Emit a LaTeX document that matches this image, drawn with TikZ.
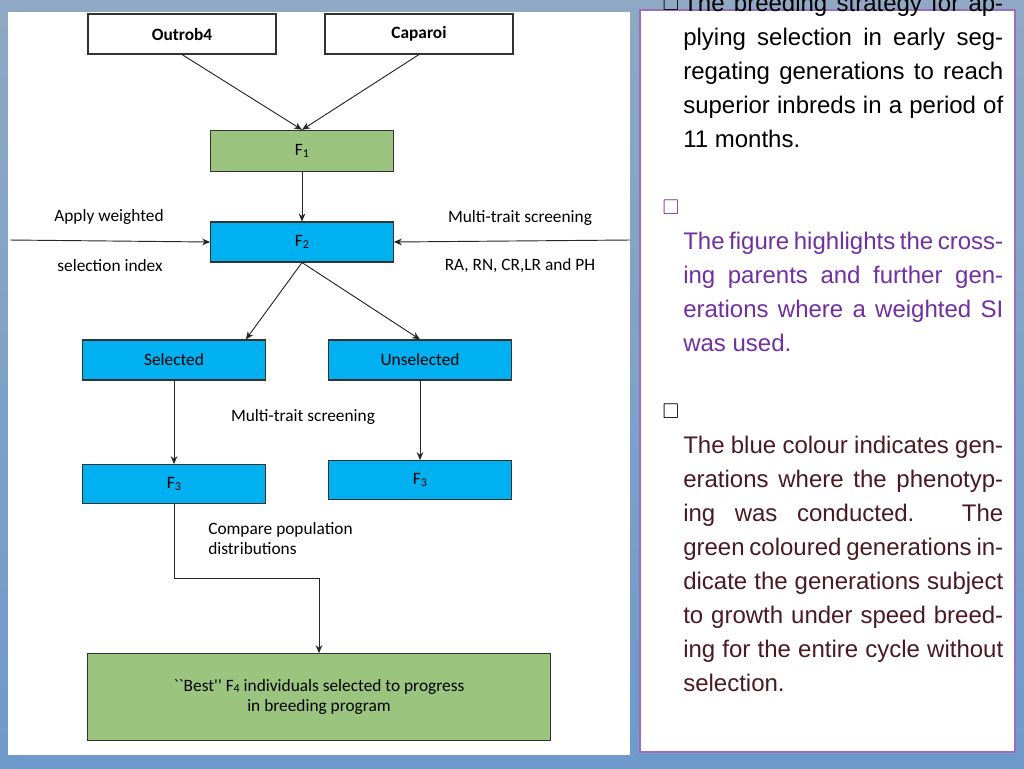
\documentclass[tikz,border=0pt]{standalone}
\usepackage{amssymb}
\usepackage{fontspec}
\setmainfont{Liberation Sans}
\newfontfamily\calfnt{Carlito}
\usetikzlibrary{arrows.meta}
\definecolor{gfill}{HTML}{9BC57F}
\definecolor{bfill}{HTML}{00B0F0}
\definecolor{purp}{HTML}{7030A0}
\definecolor{brn}{HTML}{4A1A22}
\definecolor{bgA}{HTML}{8FA9C4}
\definecolor{bgB}{HTML}{6E9ACB}
\newcommand{\Fsub}[1]{F\raisebox{-1pt}{\small #1}}
\newcommand{\bulbox}{\llap{\raisebox{1pt}{\fontsize{16}{16}\selectfont$\square$}\,}}
\begin{document}
\begin{tikzpicture}[x=0.75pt,y=-0.75pt,
  box/.style={draw=black!80,line width=0.8pt,font=\calfnt\fontsize{13}{15}\selectfont,inner sep=0pt},
  arr/.style={-{Stealth[length=6pt,width=5pt]},line width=0.7pt,black!85},
  lab/.style={font=\calfnt\fontsize{13}{15}\selectfont,inner sep=0pt,align=left},
  para/.style={anchor=north west,inner sep=0pt,text width=240pt,align=justify,font=\fontsize{18}{25.5}\selectfont}]
\useasboundingbox (0,0) rectangle (1024,768);
\shade[top color=bgA,bottom color=bgB] (0,0) rectangle (1024,768);
\fill[white] (8,12) rectangle (630,755);
\fill[white,draw=purp!70,line width=1.2pt] (640,10) rectangle (1015,752);
% boxes
\node[box,fill=white,minimum width=141pt,minimum height=30pt,font=\calfnt\bfseries\fontsize{13}{15}\selectfont] (o) at (182,34) {Outrob4};
\node[box,fill=white,minimum width=141pt,minimum height=30pt,font=\calfnt\bfseries\fontsize{13}{15}\selectfont] (c) at (419,34) {Caparoi};
\node[box,fill=gfill,minimum width=137pt,minimum height=31pt] (f1) at (302,151) {\Fsub{1}};
\node[box,fill=bfill,minimum width=137pt,minimum height=30pt] (f2) at (302,242) {\Fsub{2}};
\node[box,fill=bfill,minimum width=137pt,minimum height=30pt] (s) at (174,360) {Selected};
\node[box,fill=bfill,minimum width=137pt,minimum height=30pt] (u) at (420,360) {Unselected};
\node[box,fill=bfill,minimum width=137pt,minimum height=29pt] (f3a) at (174,484) {\Fsub{3}};
\node[box,fill=bfill,minimum width=137pt,minimum height=29pt] (f3b) at (420,480) {\Fsub{3}};
\node[box,fill=gfill,minimum width=347pt,minimum height=65pt,align=center] (b) at (319,697) {``Best'' \Fsub{4} individuals selected to progress\\in breeding program};
% coordinates
\coordinate (lin) at (10,240);
\coordinate (rin) at (630,240);
\coordinate (k1) at (174,578);
\coordinate (k2) at (319,578);
\draw[arr] (o.south) -- (f1.north);
\draw[arr] (c.south) -- (f1.north);
\draw[arr] (f2.north|-f1.south) -- (f2.north);
\draw[arr] (lin) -- (f2.west);
\draw[arr] (rin) -- (f2.east);
\draw[arr] (f2.south) -- ([xshift=-15pt]s.north east);
\draw[arr] (f2.south) -- (u.north);
\draw[arr] (s) -- (f3a);
\draw[arr] (u) -- (f3b);
\draw[line width=0.7pt,black!85] (f3a.south) -- (k1) -- (k2);
\draw[arr] (k2) -- (b.north);
% labels
\node[lab] (l1) at (109,217) {Apply weighted};
\node[lab] (l2) at (110,266) {selection index};
\node[lab] (l3) at (520,218) {Multi-trait screening};
\node[lab] (l4) at (520,266) {RA, RN, CR,LR and PH};
\node[lab] (l5) at (303,417) {Multi-trait screening};
\node[lab,anchor=west] (l6) at (208,539) {Compare population\\distributions};
% right text
\node[para] (t) at (683,-6) {%
\bulbox The breeding strategy for applying selection in early segregating generations to reach superior inbreds in a period of 11 months.\par
\vspace{25.5pt}
{\color{purp}\bulbox The figure highlights the crossing parents and further generations where a weighted SI was used.\par}
\vspace{25.5pt}
{\color{brn}{\color{black}\bulbox}The blue colour indicates generations where the phenotyping was conducted. The green coloured generations indicate the generations subject to growth under speed breeding for the entire cycle without selection.\par}};
\end{tikzpicture}
\end{document}
